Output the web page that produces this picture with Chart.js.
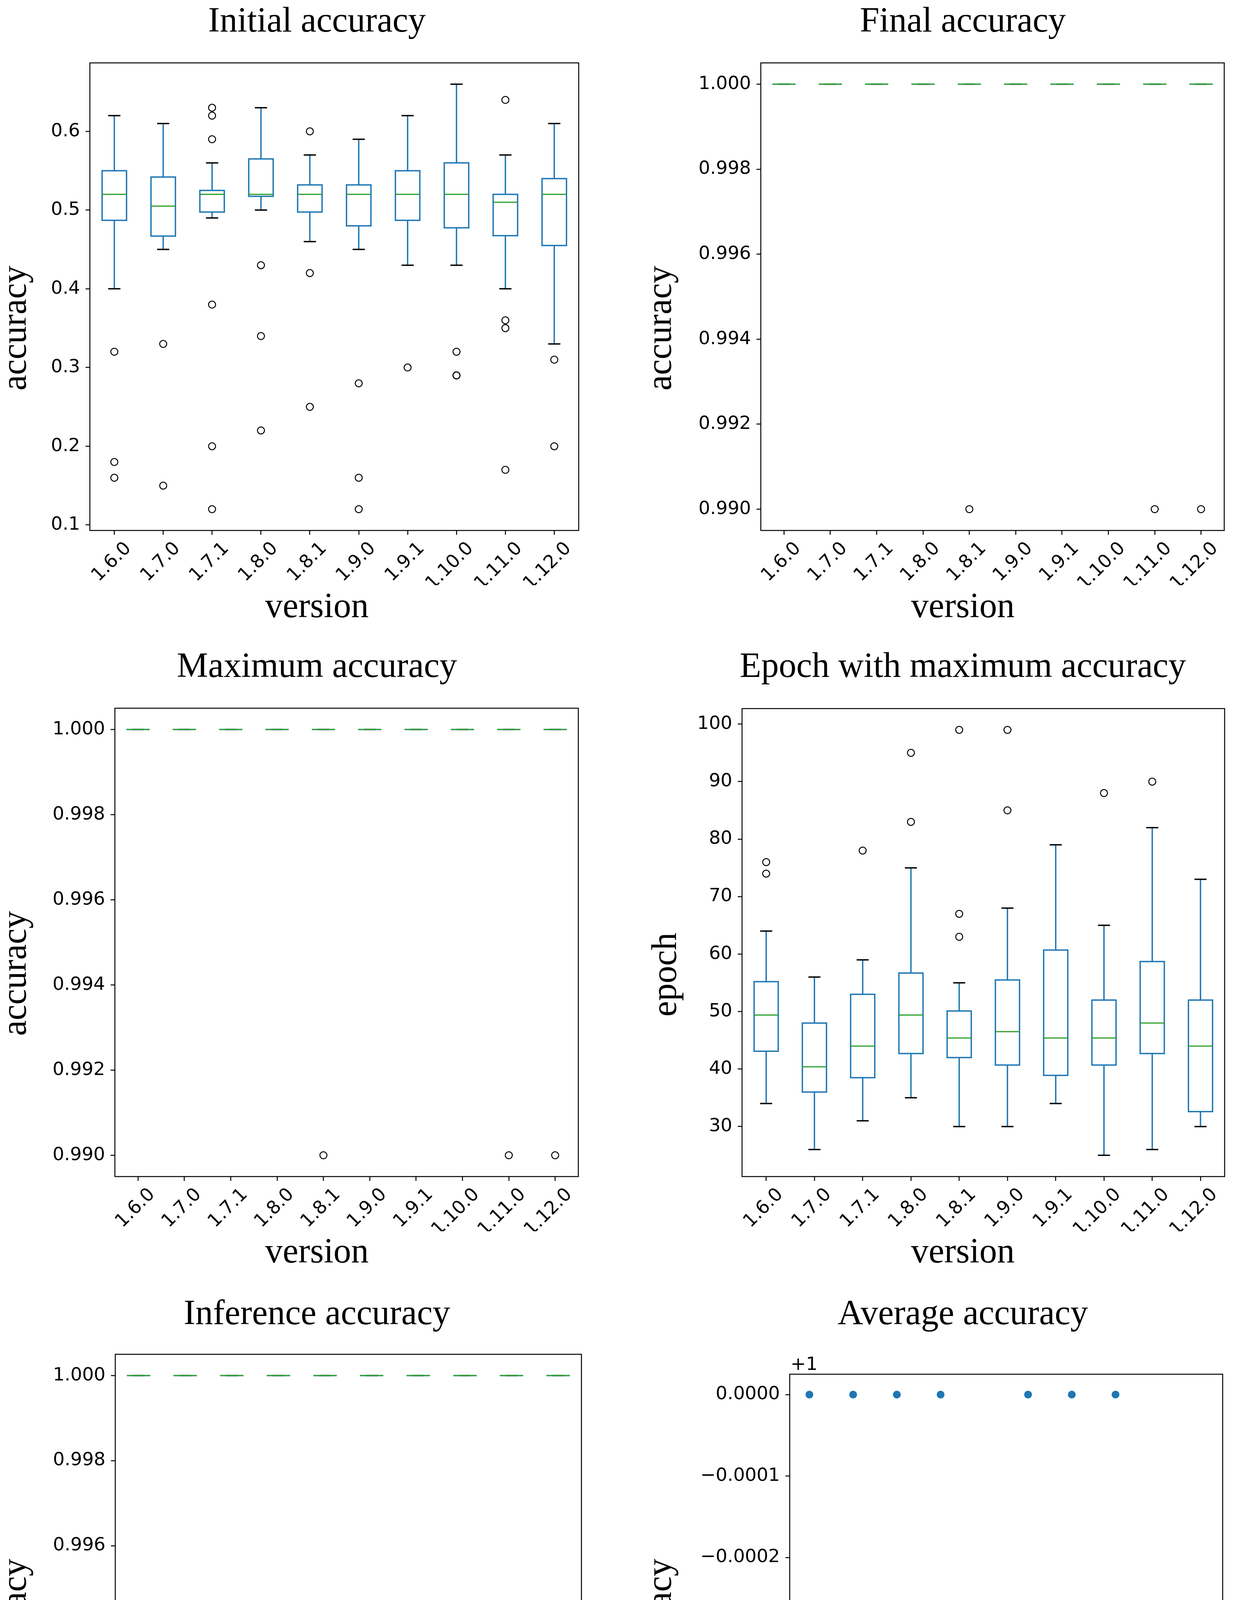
<!DOCTYPE html>
<html lang="en">
<head>
<meta charset="UTF-8" />
<title>Accuracy by version</title>
<style>
  html, body {
    margin: 0;
    padding: 0;
    background: #fff;
    overflow: hidden;
  }
  body {
    position: relative;
    width: 3158px;
    height: 4910px;
  }
  canvas {
    position: absolute;
  }
</style>
</head>
<body>

<canvas id="initialChart"   width="1579" height="1654" style="left:0px;top:0px"></canvas>
<canvas id="finalChart"     width="1579" height="1654" style="left:1579px;top:0px"></canvas>
<canvas id="maxChart"       width="1579" height="1654" style="left:0px;top:1654px"></canvas>
<canvas id="epochChart"     width="1579" height="1654" style="left:1579px;top:1654px"></canvas>
<canvas id="inferenceChart" width="1579" height="1602" style="left:0px;top:3308px"></canvas>
<canvas id="averageChart"   width="1579" height="1602" style="left:1579px;top:3308px"></canvas>

<script src="https://cdn.jsdelivr.net/npm/chart.js"></script>
<script>
// ---- data ----
const versions = ['1.6.0', '1.7.0', '1.7.1', '1.8.0', '1.8.1', '1.9.0', '1.9.1', '1.10.0', '1.11.0', '1.12.0'];
// the inference panel sorts versions as strings
const inferenceVersions = ['1.10.0', '1.11.0', '1.12.0', '1.6.0', '1.7.0', '1.7.1', '1.8.0', '1.8.1', '1.9.0', '1.9.1'];

// Initial accuracy (box stats + outliers per version)
const initLow  = [0.40, 0.45, 0.49, 0.50, 0.46, 0.45, 0.43, 0.43, 0.40, 0.33];
const initQ1   = [0.487, 0.467, 0.4975, 0.5175, 0.4975, 0.48, 0.487, 0.4775, 0.4675, 0.455];
const initMed  = [0.52, 0.505, 0.52, 0.52, 0.52, 0.52, 0.52, 0.52, 0.51, 0.52];
const initQ3   = [0.55, 0.542, 0.525, 0.565, 0.532, 0.532, 0.55, 0.56, 0.52, 0.54];
const initHigh = [0.62, 0.61, 0.56, 0.63, 0.57, 0.59, 0.62, 0.66, 0.57, 0.61];
const initOut  = [[0.32, 0.18, 0.16], [0.33, 0.15], [0.63, 0.62, 0.59, 0.38, 0.20, 0.12], [0.43, 0.34, 0.22],
                  [0.60, 0.42, 0.25], [0.28, 0.16, 0.12], [0.30], [0.32, 0.29, 0.29], [0.64, 0.36, 0.35, 0.17], [0.31, 0.20]];
const initTicks = [0.1, 0.2, 0.3, 0.4, 0.5, 0.6];

// Final accuracy: every box statistic is 1.000
const finalStats = [1, 1, 1, 1, 1, 1, 1, 1, 1, 1];
const finalOut   = [[], [], [], [], [0.99], [], [], [], [0.99], [0.99]];

// Maximum accuracy: every box statistic is 1.000
const maxStats = [1, 1, 1, 1, 1, 1, 1, 1, 1, 1];
const maxOut   = [[], [], [], [], [0.99], [], [], [], [0.99], [0.99]];

// Inference accuracy (inferenceVersions order)
const inferStats = [1, 1, 1, 1, 1, 1, 1, 1, 1, 1];
const inferOut   = [[], [0.99], [0.99], [], [], [], [], [0.99], [], []];

const accTicks = [0.990, 0.992, 0.994, 0.996, 0.998, 1.000];

// Epoch with maximum accuracy
const epochLow  = [34, 26, 31, 35, 30, 30, 34, 25, 26, 30];
const epochQ1   = [43.1, 36, 38.5, 42.7, 42, 40.7, 38.9, 40.7, 42.7, 32.6];
const epochMed  = [49.4, 40.4, 44, 49.4, 45.4, 46.5, 45.4, 45.4, 48, 44];
const epochQ3   = [55.2, 48, 53, 56.7, 50.1, 55.5, 60.7, 52, 58.7, 52];
const epochHigh = [64, 56, 59, 75, 55, 68, 79, 65, 82, 73];
const epochOut  = [[76, 74], [], [78], [95, 83], [99, 67, 63], [99, 85], [], [88], [90], []];
const epochTicks = [30, 40, 50, 60, 70, 80, 90, 100];

// Average accuracy
const avgAcc   = [1, 1, 1, 1, 0.9995, 1, 1, 1, 0.9995, 0.9995];
const avgTicks = [1.0000, 0.9999, 0.9998, 0.9997, 0.9996, 0.9995];

// ---- styling ----
const BLUE = '#1f77b4';
const GREEN = '#2ca02c';
const SERIF = '"Liberation Serif", "DejaVu Serif", serif';
const SANS = '"DejaVu Sans", sans-serif';
const tickFont = { family: SANS, size: 47 };

Chart.defaults.color = '#000';

const gridOpts = {
  display: true,
  drawOnChartArea: false,
  drawTicks: true,
  tickLength: 11,
  tickWidth: 2.5,
  tickColor: '#000',
  offset: false
};

// frame + title / axis labels, placed like the original figure
function textPlugin(t) {
  return {
    id: 'panelText',
    afterDraw(chart) {
      const ctx = chart.ctx, a = chart.chartArea;
      ctx.save();
      ctx.strokeStyle = '#000';
      ctx.lineWidth = 2.5;
      ctx.strokeRect(a.left, a.top, a.right - a.left, a.bottom - a.top);

      ctx.fillStyle = '#000';
      ctx.font = '90px ' + SERIF;
      ctx.textAlign = 'center';
      ctx.textBaseline = 'alphabetic';
      ctx.fillText(t.title, t.cx, t.titleY);
      ctx.fillText(t.xlabel, t.cx, t.xlabY);

      ctx.save();
      ctx.translate(t.ylabX, t.ylabY);
      ctx.rotate(-Math.PI / 2);
      ctx.fillText(t.ylabel, 0, 0);
      ctx.restore();

      if (t.offsetText) {
        ctx.font = '47px ' + SANS;
        ctx.textAlign = 'left';
        ctx.fillText(t.offsetText, a.left + 2, a.top - 11);
      }
      ctx.restore();
    }
  };
}

// boxes, whiskers, caps and medians, drawn through the chart's scales
function boxPlugin(s) {
  return {
    id: 'boxPlot',
    beforeDatasetsDraw(chart) {
      const ctx = chart.ctx, x = chart.scales.x, y = chart.scales.y;
      const unit = x.getPixelForValue(1) - x.getPixelForValue(0);
      const bw = unit * 0.25, cw = unit * 0.125;
      ctx.save();
      s.med.forEach((m, i) => {
        const cx = x.getPixelForValue(i);
        const lo = y.getPixelForValue(s.low[i]), q1 = y.getPixelForValue(s.q1[i]);
        const md = y.getPixelForValue(m), q3 = y.getPixelForValue(s.q3[i]);
        const hi = y.getPixelForValue(s.high[i]);

        ctx.lineWidth = 3.5;
        ctx.strokeStyle = BLUE;
        ctx.strokeRect(cx - bw, q3, bw * 2, q1 - q3);
        ctx.beginPath();
        ctx.moveTo(cx, q1); ctx.lineTo(cx, lo);
        ctx.moveTo(cx, q3); ctx.lineTo(cx, hi);
        ctx.stroke();

        ctx.strokeStyle = '#000';
        ctx.beginPath();
        ctx.moveTo(cx - cw, lo); ctx.lineTo(cx + cw, lo);
        ctx.moveTo(cx - cw, hi); ctx.lineTo(cx + cw, hi);
        ctx.stroke();

        ctx.lineWidth = 3;
        ctx.strokeStyle = GREEN;
        ctx.beginPath();
        ctx.moveTo(cx - bw, md); ctx.lineTo(cx + bw, md);
        ctx.stroke();
      });
      ctx.restore();
    }
  };
}

function yRange(values) {
  const lo = Math.min(...values), hi = Math.max(...values);
  const pad = (hi - lo) * 0.05;
  return [lo - pad, hi + pad];
}

// p: canvas origin (x0, y0), chart area in page px, text positions in page px
function layoutFor(p, canvas) {
  const l = p.area[0] - p.x0, r = p.area[1] - p.x0;
  const t = p.area[2] - p.y0, b = p.area[3] - p.y0;
  const xH = 140;
  return {
    yWidth: l,
    xHeight: xH,
    padding: { left: 0, top: t, right: canvas.width - r, bottom: canvas.height - b - xH },
    text: {
      title: p.title, xlabel: 'version', ylabel: p.ylabel, offsetText: p.offsetText,
      cx: p.cx - p.x0, titleY: p.titleY - p.y0, xlabY: p.xlabY - p.y0,
      ylabX: p.ylabX - p.x0, ylabY: p.ylabY - p.y0
    }
  };
}

const xTickOpts = { autoSkip: false, minRotation: 45, maxRotation: 45, labelOffset: 36, padding: 8, font: tickFont, color: '#000' };

function boxChart(id, p, cats, stats, outliers, yTicks, dec) {
  const canvas = document.getElementById(id);
  const L = layoutFor(p, canvas);
  const points = [];
  outliers.forEach((list, i) => list.forEach(v => points.push({ x: cats[i], y: v })));
  const [ymin, ymax] = yRange(stats.low.concat(stats.high, points.map(pt => pt.y)));

  return new Chart(canvas.getContext('2d'), {
    type: 'scatter',
    data: {
      labels: cats,
      datasets: [{
        data: points,
        pointRadius: 9,
        pointBorderWidth: 2.5,
        pointBorderColor: '#000',
        pointBackgroundColor: 'rgba(0,0,0,0)'
      }]
    },
    options: {
      responsive: false,
      animation: false,
      devicePixelRatio: 1,
      events: [],
      layout: { padding: L.padding },
      plugins: { legend: { display: false }, tooltip: { enabled: false } },
      scales: {
        x: {
          type: 'category',
          offset: true,
          grid: gridOpts,
          border: { display: false },
          ticks: xTickOpts,
          afterFit: s => { s.height = L.xHeight; }
        },
        y: {
          type: 'linear',
          min: ymin,
          max: ymax,
          grid: gridOpts,
          border: { display: false },
          ticks: { padding: 14, font: tickFont, color: '#000', callback: v => Number(v).toFixed(dec) },
          afterBuildTicks: s => { s.ticks = yTicks.map(v => ({ value: v })); },
          afterFit: s => { s.width = L.yWidth; }
        }
      }
    },
    plugins: [boxPlugin(stats), textPlugin(L.text)]
  });
}

// ---- panels ----
boxChart('initialChart',
  { x0: 0, y0: 0, area: [230, 1481, 161, 1358], title: 'Initial accuracy', ylabel: 'accuracy',
    cx: 811, titleY: 81, xlabY: 1580, ylabX: 66, ylabY: 840 },
  versions, { low: initLow, q1: initQ1, med: initMed, q3: initQ3, high: initHigh }, initOut, initTicks, 1);

boxChart('finalChart',
  { x0: 1579, y0: 0, area: [1947, 3133, 161, 1358], title: 'Final accuracy', ylabel: 'accuracy',
    cx: 2464, titleY: 81, xlabY: 1580, ylabX: 1717, ylabY: 840 },
  versions, { low: finalStats, q1: finalStats, med: finalStats, q3: finalStats, high: finalStats }, finalOut, accTicks, 3);

boxChart('maxChart',
  { x0: 0, y0: 1654, area: [294, 1480, 1813, 3012], title: 'Maximum accuracy', ylabel: 'accuracy',
    cx: 811, titleY: 1733, xlabY: 3232, ylabX: 66, ylabY: 2492 },
  versions, { low: maxStats, q1: maxStats, med: maxStats, q3: maxStats, high: maxStats }, maxOut, accTicks, 3);

boxChart('epochChart',
  { x0: 1579, y0: 1654, area: [1899, 3134, 1814, 3012], title: 'Epoch with maximum accuracy', ylabel: 'epoch',
    cx: 2464, titleY: 1733, xlabY: 3232, ylabX: 1730, ylabY: 2495 },
  versions, { low: epochLow, q1: epochQ1, med: epochMed, q3: epochQ3, high: epochHigh }, epochOut, epochTicks, 0);

boxChart('inferenceChart',
  { x0: 0, y0: 3308, area: [295, 1488, 3467, 4665], title: 'Inference accuracy', ylabel: 'accuracy',
    cx: 811, titleY: 3390, xlabY: 4886, ylabX: 66, ylabY: 4150 },
  inferenceVersions, { low: inferStats, q1: inferStats, med: inferStats, q3: inferStats, high: inferStats }, inferOut, accTicks, 3);

// Average accuracy: plain scatter on positions 0..9
(function () {
  const canvas = document.getElementById('averageChart');
  const L = layoutFor({ x0: 1579, y0: 3308, area: [2021, 3129, 3518, 4665], title: 'Average accuracy', ylabel: 'accuracy',
    offsetText: '+1', cx: 2464, titleY: 3390, xlabY: 4886, ylabX: 1717, ylabY: 4150 }, canvas);
  const n = versions.length;
  const [ymin, ymax] = yRange(avgAcc);

  new Chart(canvas.getContext('2d'), {
    type: 'scatter',
    data: {
      datasets: [{
        data: avgAcc.map((v, i) => ({ x: i, y: v })),
        pointRadius: 10,
        pointBorderWidth: 0,
        pointBackgroundColor: BLUE
      }]
    },
    options: {
      responsive: false,
      animation: false,
      devicePixelRatio: 1,
      events: [],
      layout: { padding: L.padding },
      plugins: { legend: { display: false }, tooltip: { enabled: false } },
      scales: {
        x: {
          type: 'linear',
          min: -0.05 * (n - 1),
          max: (n - 1) * 1.05,
          grid: gridOpts,
          border: { display: false },
          ticks: Object.assign({}, xTickOpts, { callback: v => versions[v] }),
          afterBuildTicks: s => { s.ticks = versions.map((v, i) => ({ value: i })); },
          afterFit: s => { s.height = L.xHeight; }
        },
        y: {
          type: 'linear',
          min: ymin,
          max: ymax,
          grid: gridOpts,
          border: { display: false },
          ticks: { padding: 14, font: tickFont, color: '#000',
                   callback: v => (Number(v) - 1).toFixed(4).replace('-', '\u2212') },
          afterBuildTicks: s => { s.ticks = avgTicks.map(v => ({ value: v })); },
          afterFit: s => { s.width = L.yWidth; }
        }
      }
    },
    plugins: [textPlugin(L.text)]
  });
})();
</script>

</body>
</html>
